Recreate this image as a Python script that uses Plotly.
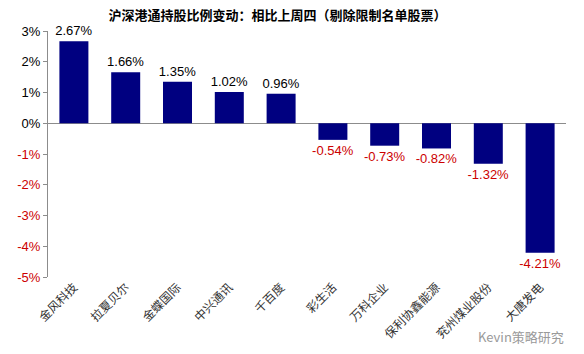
import plotly.graph_objects as go

categories = ["金风科技", "拉夏贝尔", "金蝶国际", "中兴通讯", "千百度", "彩生活", "万科企业", "保利协鑫能源", "兖州煤业股份", "大唐发电"]
values = [2.67, 1.66, 1.35, 1.02, 0.96, -0.54, -0.73, -0.82, -1.32, -4.21]
tick_vals = [3, 2, 1, 0, -1, -2, -3, -4, -5]

title = "沪深港通持股比例变动：相比上周四（剔除限制名单股票）"

label_colors = ["#000000" if v >= 0 else "#cc0000" for v in values]
tick_text = [f"{t}%" if t >= 0 else f"<span style='color:#cc0000'>{t}%</span>" for t in tick_vals]

fig = go.Figure()
fig.add_trace(go.Bar(
    x=categories, y=values,
    marker=dict(color="#000080", line=dict(width=0)),
    width=0.56,
    text=[f"{v:.2f}%" for v in values],
    textposition="outside",
    constraintext="none",
    textfont=dict(color=label_colors, size=13, family="Liberation Sans, Arial"),
    cliponaxis=False,
))

fig.update_layout(
    width=584, height=354,
    margin=dict(l=48, r=18, t=31, b=77),
    paper_bgcolor="white", plot_bgcolor="white",
    showlegend=False,
    title=dict(text=f"<b>{title}</b>", x=0.475, xanchor="center", y=0.955, yanchor="middle",
               font=dict(family="Noto Sans CJK SC", size=13, color="#000000")),
    font=dict(family="Liberation Sans, Arial", size=13, color="#000000"),
    annotations=[dict(text="Kevin策略研究", x=1.0, y=0, xref="paper", yref="paper",
                      xanchor="right", yanchor="top", yshift=-48, showarrow=False,
                      font=dict(family="Noto Sans CJK SC", size=13, color="#9a9a9a"))],
)
fig.update_yaxes(
    range=[-5, 3], tickvals=tick_vals, ticktext=tick_text,
    showgrid=False, showline=True, linecolor="#8c8c8c", linewidth=1,
    ticks="outside", ticklen=4, tickcolor="#8c8c8c",
    zeroline=True, zerolinecolor="#8c8c8c", zerolinewidth=1,
    tickfont=dict(size=13, family="Liberation Sans, Arial"),
)
fig.update_xaxes(
    showgrid=False, showline=False, ticks="", tickangle=-45,
    tickfont=dict(size=12, family="Noto Sans CJK SC", color="#333333"),
)

fig.write_html("out.html")
